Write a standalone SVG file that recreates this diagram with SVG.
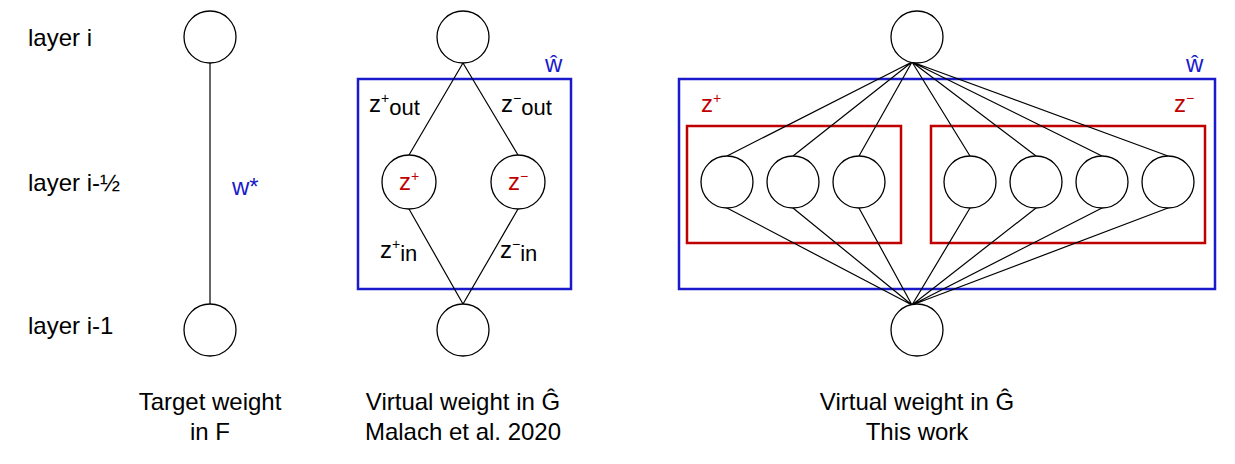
<svg xmlns="http://www.w3.org/2000/svg" width="1235" height="464" viewBox="0 0 1235 464">
<style>
.n{fill:#fff;stroke:#000;stroke-width:1.3}
.e{stroke:#000;stroke-width:1.2;fill:none}
text{font-family:"Liberation Sans",Arial,sans-serif;font-size:24px;fill:#000}
.b{fill:#1a1acc}.r{fill:#c00000}
.c{text-anchor:middle}
.bb{fill:none;stroke:#1a1acc;stroke-width:2.5}
.rb{fill:none;stroke:#c00000;stroke-width:2.5}
</style>
<rect width="1235" height="464" fill="#fff"/>
<g id="labels">
<text x="28" y="46">layer i</text>
<text x="28" y="191">layer i-½</text>
<text x="28" y="334">layer i-1</text>
<text x="210" y="410" class="c">Target weight</text>
<text x="210" y="440" class="c">in F</text>
<text x="463" y="410" class="c">Virtual weight in Ĝ</text>
<text x="463" y="440" class="c">Malach et al. 2020</text>
<text x="917" y="410" class="c">Virtual weight in Ĝ</text>
<text x="917" y="440" class="c">This work</text>
</g>
<g id="boxes">
<rect x="358" y="79" width="213" height="210" class="bb"/>
<rect x="679" y="79" width="536" height="210" class="bb"/>
<rect x="687" y="126" width="214" height="117" class="rb"/>
<rect x="931" y="126" width="274" height="117" class="rb"/>
<text x="545" y="72" class="b">ŵ</text>
<text x="1186" y="72" class="b">ŵ</text>
<text x="701" y="112" class="r">z<tspan font-size="14" dy="-9">+</tspan></text>
<text x="1174" y="112" class="r">z<tspan font-size="14" dy="-9">−</tspan></text>
</g>
<g id="connectors">
<line x1="210" y1="63" x2="210" y2="304" class="e"/>
<path d="M463 63L409 155M463 63L518 155M409 209L463 304M518 209L463 304" class="e"/>
<path d="M912 62L727 156M912 62L793 156M912 62L859 156M912 62L970 156M912 62L1036 156M912 62L1102 156M912 62L1168 156M727 208L912 305M793 208L912 305M859 208L912 305M970 208L912 305M1036 208L912 305M1102 208L912 305M1168 208L912 305" class="e"/>
<text x="232" y="195" class="b">w*</text>
<text x="369" y="112">z<tspan font-size="14" dy="-9">+</tspan><tspan font-size="22" dy="12">out</tspan></text>
<text x="501" y="112">z<tspan font-size="14" dy="-9">−</tspan><tspan font-size="22" dy="12">out</tspan></text>
<text x="380" y="258">z<tspan font-size="14" dy="-9">+</tspan><tspan font-size="22" dy="12">in</tspan></text>
<text x="500" y="258">z<tspan font-size="14" dy="-9">−</tspan><tspan font-size="22" dy="12">in</tspan></text>
</g>
<g id="nodeL1"><circle cx="210" cy="37" r="26" class="n"/></g>
<g id="nodeL2"><circle cx="210" cy="330" r="26" class="n"/></g>
<g id="nodeM1"><circle cx="463" cy="37" r="26" class="n"/></g>
<g id="nodeM2"><circle cx="463" cy="330" r="26" class="n"/></g>
<g id="nodeMp"><circle cx="409" cy="182" r="27" class="n"/><text x="409" y="190" class="c r">z<tspan font-size="14" dy="-9">+</tspan></text></g>
<g id="nodeMm"><circle cx="518" cy="182" r="27" class="n"/><text x="518" y="190" class="c r">z<tspan font-size="14" dy="-9">−</tspan></text></g>
<g id="nodeR1"><circle cx="917" cy="37" r="26" class="n"/></g>
<g id="nodeR2"><circle cx="917" cy="330" r="26" class="n"/></g>
<g id="hidden">
<circle cx="727" cy="182" r="26" class="n"/>
<circle cx="793" cy="182" r="26" class="n"/>
<circle cx="859" cy="182" r="26" class="n"/>
<circle cx="970" cy="182" r="26" class="n"/>
<circle cx="1036" cy="182" r="26" class="n"/>
<circle cx="1102" cy="182" r="26" class="n"/>
<circle cx="1168" cy="182" r="26" class="n"/>
</g>
</svg>
